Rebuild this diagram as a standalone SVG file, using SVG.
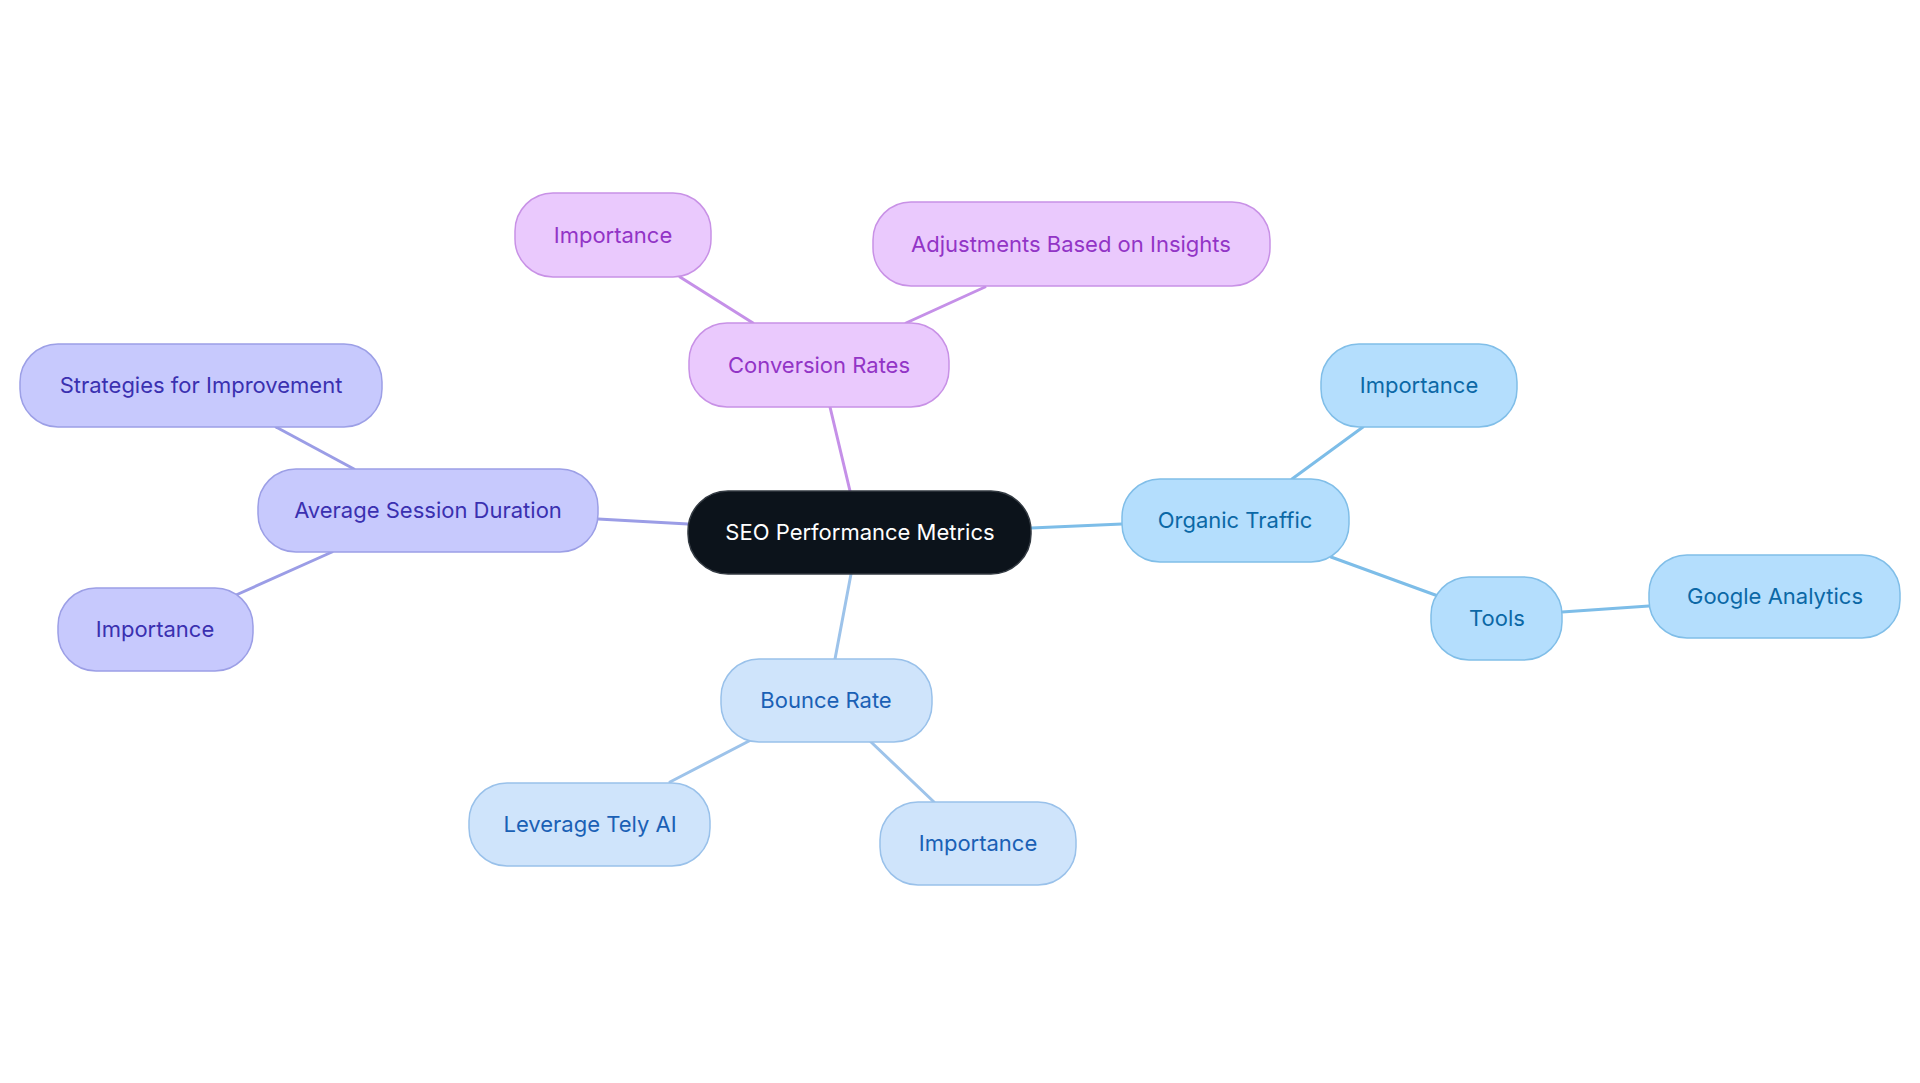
<svg xmlns="http://www.w3.org/2000/svg" width="1920" height="1083" viewBox="0 0 1920 1083">
<style>
text{font-family:Inter,"Noto Sans",sans-serif;font-size:22px;text-anchor:middle;dominant-baseline:central}
.e{stroke-width:3;fill:none;stroke-linecap:round}
.ep{stroke:#c590e8}.el{stroke:#9b9de6}.eo{stroke:#7dbde8}.eb{stroke:#9dc3ea}
.p rect{fill:#eac9fd;stroke:#c891e6;stroke-width:1.5}.p text{fill:#9234c6}
.l rect{fill:#c7c9fd;stroke:#9c9fe6;stroke-width:1.5}.l text{fill:#3a30b0}
.o rect{fill:#b4defd;stroke:#80bee8;stroke-width:1.5}.o text{fill:#0b68a6}
.b rect{fill:#cfe4fb;stroke:#99c1ea;stroke-width:1.5}.b text{fill:#1a60b5}
</style>
<rect width="1920" height="1083" fill="#ffffff"/>
<g id="connectors">
<line class="e ep" x1="850" y1="491" x2="830" y2="407"/>
<line class="e ep" x1="753" y1="323" x2="680" y2="277"/>
<line class="e ep" x1="906" y1="323" x2="985" y2="287"/>
<line class="e el" x1="688" y1="524" x2="598" y2="519"/>
<line class="e el" x1="354" y1="469" x2="276" y2="427"/>
<line class="e el" x1="332" y1="552" x2="236" y2="595"/>
<line class="e eo" x1="1031" y1="528" x2="1122" y2="524"/>
<line class="e eo" x1="1292" y1="479" x2="1363" y2="427"/>
<line class="e eo" x1="1331" y1="557" x2="1438" y2="596"/>
<line class="e eo" x1="1562" y1="612" x2="1649" y2="606"/>
<line class="e eb" x1="851" y1="574" x2="835" y2="659"/>
<line class="e eb" x1="749" y1="741" x2="670" y2="782"/>
<line class="e eb" x1="871" y1="742" x2="934" y2="802"/>
</g>
<g id="root"><rect x="688" y="491" width="343" height="83" rx="40" fill="#0c131b" stroke="#333a42" stroke-width="1.5"/><text x="860" y="532" fill="#ffffff">SEO Performance Metrics</text></g>
<g id="conversion" class="p"><rect x="689" y="323" width="260" height="84" rx="38"/><text x="819" y="365">Conversion Rates</text></g>
<g id="conv-importance" class="p"><rect x="515" y="193" width="196" height="84" rx="38"/><text x="613" y="235">Importance</text></g>
<g id="conv-adjust" class="p"><rect x="873" y="202" width="397" height="84" rx="38"/><text x="1071" y="244">Adjustments Based on Insights</text></g>
<g id="asd" class="l"><rect x="258" y="469" width="340" height="83" rx="38"/><text x="428" y="510">Average Session Duration</text></g>
<g id="asd-strategies" class="l"><rect x="20" y="344" width="362" height="83" rx="38"/><text x="201" y="385">Strategies for Improvement</text></g>
<g id="asd-importance" class="l"><rect x="58" y="588" width="195" height="83" rx="38"/><text x="155" y="629">Importance</text></g>
<g id="organic" class="o"><rect x="1122" y="479" width="227" height="83" rx="38"/><text x="1235" y="520">Organic Traffic</text></g>
<g id="org-importance" class="o"><rect x="1321" y="344" width="196" height="83" rx="38"/><text x="1419" y="385">Importance</text></g>
<g id="tools" class="o"><rect x="1431" y="577" width="131" height="83" rx="38"/><text x="1497" y="618">Tools</text></g>
<g id="ga" class="o"><rect x="1649" y="555" width="251" height="83" rx="38"/><text x="1775" y="596">Google Analytics</text></g>
<g id="bounce" class="b"><rect x="721" y="659" width="211" height="83" rx="38"/><text x="826" y="700">Bounce Rate</text></g>
<g id="bounce-tely" class="b"><rect x="469" y="783" width="241" height="83" rx="38"/><text x="590" y="824">Leverage Tely AI</text></g>
<g id="bounce-importance" class="b"><rect x="880" y="802" width="196" height="83" rx="38"/><text x="978" y="843">Importance</text></g>
</svg>
